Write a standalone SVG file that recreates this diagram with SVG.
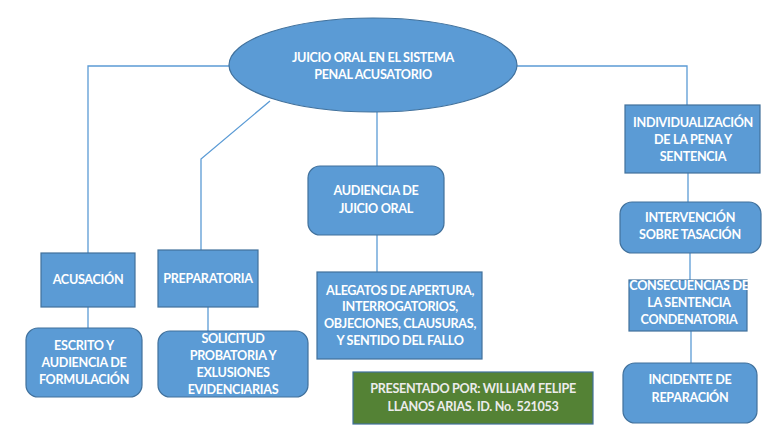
<svg xmlns="http://www.w3.org/2000/svg" width="768" height="433" viewBox="0 0 768 433">
<style>
.n{fill:#5b9bd5;stroke:#41719c;stroke-width:1.2}
.g{fill:#548235;stroke:#41719c;stroke-width:1.2}
.t{font-family:Lato,"Open Sans","Liberation Sans",sans-serif;font-weight:bold;font-size:12.6px;letter-spacing:-0.3px;fill:#ffffff;text-anchor:middle}
.tg{fill:#ececec}
.c{fill:none;stroke:#5b9bd5;stroke-width:1.3}
</style>
<rect width="768" height="433" fill="#ffffff"/>
<g id="connectors">
<polyline class="c" points="229,66 88,66 88,253"/>
<polyline class="c" points="270,101 201,159 201,250"/>
<line class="c" x1="377" y1="112" x2="377" y2="166"/>
<line class="c" x1="377" y1="235" x2="377" y2="272"/>
<polyline class="c" points="517,66 687,66 687,105"/>
<line class="c" x1="88" y1="307" x2="88" y2="328"/>
<line class="c" x1="208" y1="307" x2="208" y2="331"/>
<line class="c" x1="688" y1="173" x2="688" y2="202"/>
<line class="c" x1="690" y1="253" x2="690" y2="280"/>
<line class="c" x1="691" y1="331" x2="691" y2="363"/>
</g>
<g id="root">
<ellipse class="n" cx="373" cy="65" rx="144" ry="47"/>
<text class="t" x="373" y="62">JUICIO ORAL EN EL SISTEMA</text>
<text class="t" x="373" y="79">PENAL ACUSATORIO</text>
</g>
<g id="acusacion">
<rect class="n" x="41" y="253" width="94" height="54"/>
<text class="t" x="88" y="284">ACUSACIÓN</text>
</g>
<g id="escrito">
<rect class="n" x="26" y="328" width="116" height="69" rx="12"/>
<text class="t" x="84" y="350">ESCRITO Y</text>
<text class="t" x="84" y="367">AUDIENCIA DE</text>
<text class="t" x="84" y="384">FORMULACIÓN</text>
</g>
<g id="preparatoria">
<rect class="n" x="158" y="250" width="100" height="57"/>
<text class="t" x="208" y="283">PREPARATORIA</text>
</g>
<g id="solicitud">
<rect class="n" x="158" y="331" width="150" height="66" rx="12"/>
<text class="t" x="233" y="343">SOLICITUD</text>
<text class="t" x="233" y="360">PROBATORIA Y</text>
<text class="t" x="233" y="377">EXLUSIONES</text>
<text class="t" x="233" y="394">EVIDENCIARIAS</text>
</g>
<g id="audiencia">
<rect class="n" x="308" y="166" width="136" height="69" rx="12"/>
<text class="t" x="376" y="195">AUDIENCIA DE</text>
<text class="t" x="376" y="213">JUICIO ORAL</text>
</g>
<g id="alegatos">
<rect class="n" x="317" y="272" width="165" height="87"/>
<text class="t" x="400" y="295">ALEGATOS DE APERTURA,</text>
<text class="t" x="400" y="311">INTERROGATORIOS,</text>
<text class="t" x="400" y="328">OBJECIONES, CLAUSURAS,</text>
<text class="t" x="400" y="345">Y SENTIDO DEL FALLO</text>
</g>
<g id="presentado">
<rect class="g" x="353" y="372" width="240" height="52"/>
<text class="t tg" x="473" y="393">PRESENTADO POR: WILLIAM FELIPE</text>
<text class="t tg" x="473" y="411">LLANOS ARIAS. ID. No. 521053</text>
</g>
<g id="individualizacion">
<rect class="n" x="625" y="105" width="135" height="68"/>
<text class="t" x="693" y="127">INDIVIDUALIZACIÓN</text>
<text class="t" x="693" y="144">DE LA PENA Y</text>
<text class="t" x="693" y="161">SENTENCIA</text>
</g>
<g id="intervencion">
<rect class="n" x="620" y="202" width="141" height="51" rx="12"/>
<text class="t" x="690" y="222">INTERVENCIÓN</text>
<text class="t" x="690" y="239">SOBRE TASACIÓN</text>
</g>
<g id="consecuencias">
<rect class="n" x="629" y="280" width="118" height="51"/>
<text class="t" x="689" y="290">CONSECUENCIAS DE</text>
<text class="t" x="689" y="307">LA SENTENCIA</text>
<text class="t" x="689" y="324">CONDENATORIA</text>
</g>
<g id="incidente">
<rect class="n" x="623" y="363" width="134" height="60" rx="12"/>
<text class="t" x="690" y="384">INCIDENTE DE</text>
<text class="t" x="690" y="402">REPARACIÓN</text>
</g>
</svg>
